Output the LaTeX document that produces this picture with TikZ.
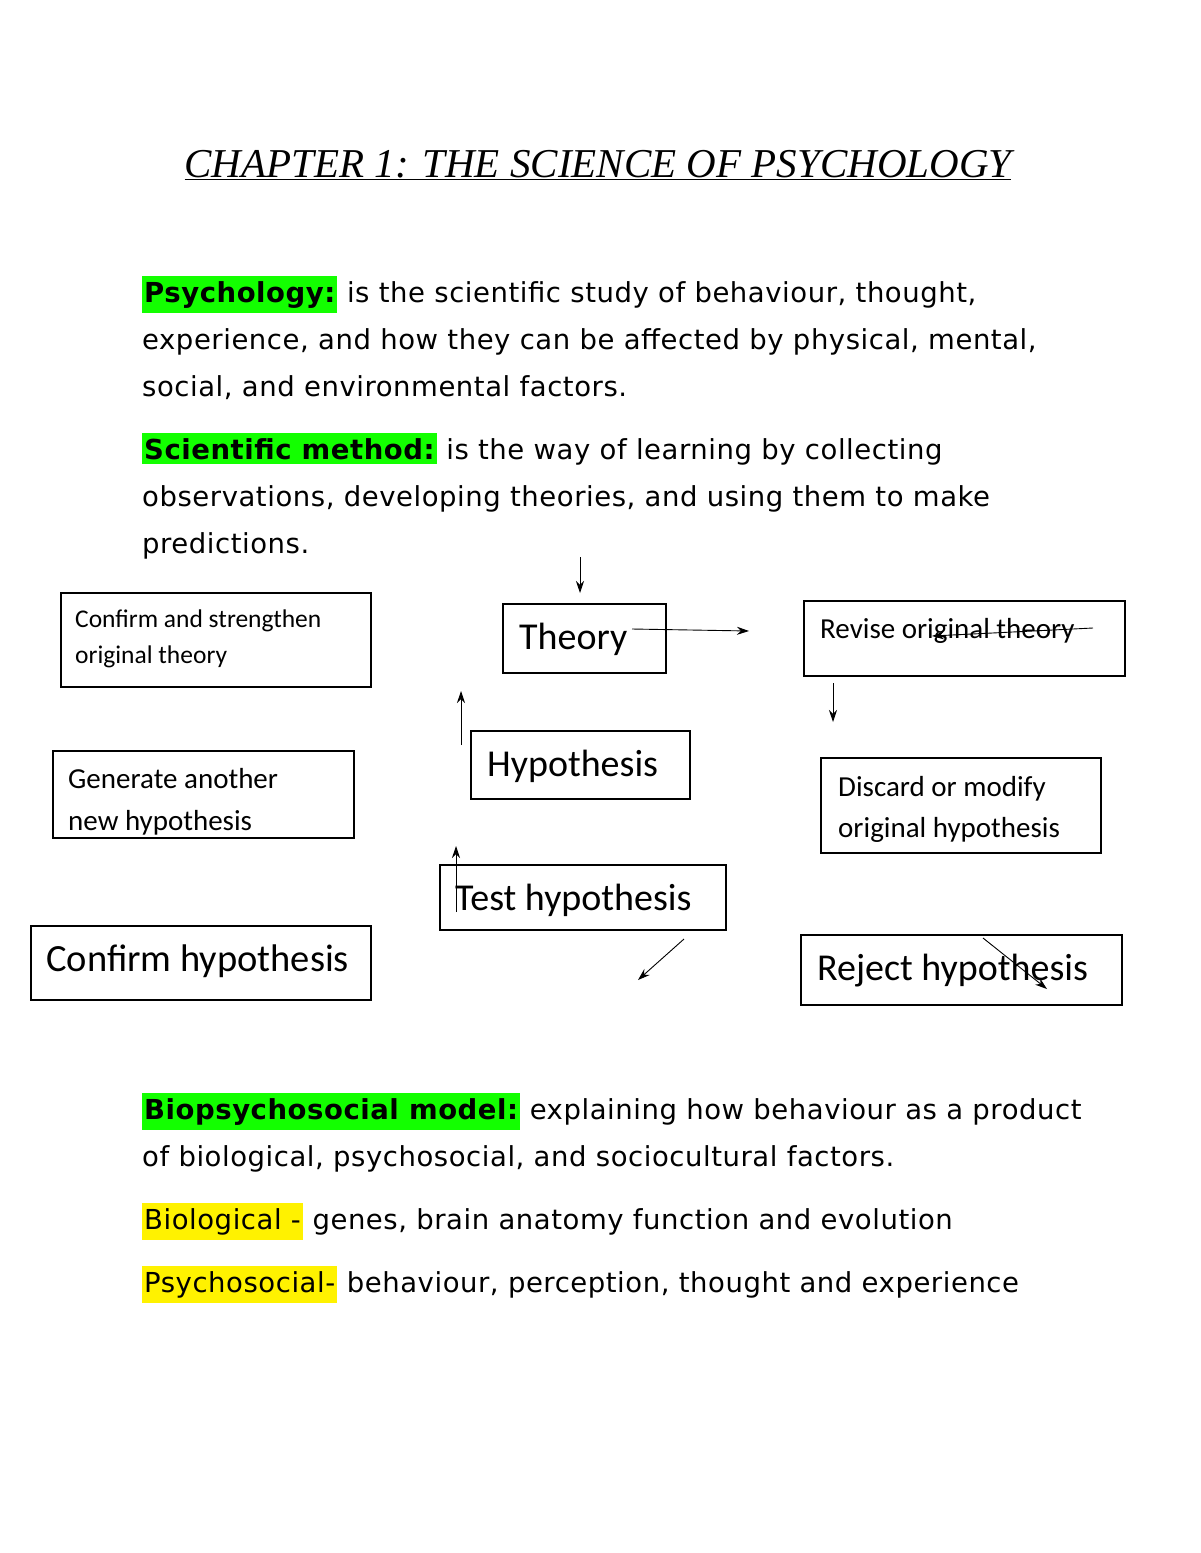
\documentclass[tikz,border=0pt]{standalone}
\usepackage{fontspec}
\setmainfont{DejaVu Sans}[LetterSpace=2]
\newfontfamily\boxf{Carlito}
\newfontfamily\titlef{Liberation Serif}
\usetikzlibrary{arrows.meta}
\begin{document}
\begin{tikzpicture}[x=1pt,y=-1pt,
 bx/.style={draw,line width=1.6pt,inner sep=0pt},
 bt/.style={anchor=base west,inner sep=0pt,font=\boxf},
 tx/.style={anchor=base west,inner sep=0pt,font=\fontsize{27.5}{30}\selectfont},
 hl/.style={anchor=base west,inner xsep=2pt,inner ysep=5pt,font=\fontsize{27.5}{30}\selectfont\bfseries,fill=green!90!lime},
 hy/.style={anchor=base west,inner xsep=2pt,inner ysep=5pt,font=\fontsize{27.5}{30}\selectfont,fill=yellow},
 ar/.style={-{Stealth[length=12pt,width=8pt]},line width=0.9pt}]
\useasboundingbox[fill=white] (0,0) rectangle (1200,1553);
\node[anchor=base,inner sep=0pt,font=\titlef\itshape\fontsize{41}{44}\selectfont] (title) at (598,177) {\underline{CHAPTER 1: THE SCIENCE OF PSYCHOLOGY}};
\node[hl] (h1) at (142,302) {Psychology:};
\node[tx] (l1) at (h1.base east) {\ is the scientific study of behaviour, thought,};
\node[tx] (l2) at (142,349) {experience, and how they can be affected by physical, mental,};
\node[tx] (l3) at (142,396) {social, and environmental factors.};
\node[hl] (h2) at (142,459) {Scientific method:};
\node[tx] (l4) at (h2.base east) {\ is the way of learning by collecting};
\node[tx] (l5) at (142,506) {observations, developing theories, and using them to make};
\node[tx] (l6) at (142,553) {predictions.};
\node[hl] (h3) at (142,1119) {Biopsychosocial model:};
\node[tx] (l7) at (h3.base east) {\ explaining how behaviour as a product};
\node[tx] (l8) at (142,1166) {of biological, psychosocial, and sociocultural factors.};
\node[hy] (h4) at (142,1229) {Biological -};
\node[tx] (l9) at (h4.base east) {\ genes, brain anatomy function and evolution};
\node[hy] (h5) at (142,1292) {Psychosocial-};
\node[tx] (l10) at (h5.base east) {\ behaviour, perception, thought and experience};
% boxes
\draw[bx] (61,593) rectangle (371,687); \node[bt,font=\boxf\fontsize{25.5}{28}\selectfont] (b1a) at (75,627) {Confirm and strengthen}; \node[bt,font=\boxf\fontsize{25.5}{28}\selectfont] (b1b) at (75,663) {original theory};
\draw[bx] (503,604) rectangle (666,673); \node[bt,font=\boxf\fontsize{38}{40}\selectfont] (th) at (519,649) {Theory};
\draw[bx] (804,601) rectangle (1125,676); \node[bt,font=\boxf\fontsize{29}{30}\selectfont] (rv) at (820,638) {Revise original theory};
\draw[bx] (471,731) rectangle (690,799); \node[bt,font=\boxf\fontsize{38}{40}\selectfont] (hy) at (487,776) {Hypothesis};
\draw[bx] (53,751) rectangle (354,838); \node[bt,font=\boxf\fontsize{29}{30}\selectfont] (g1) at (68,788) {Generate another}; \node[bt,font=\boxf\fontsize{29}{30}\selectfont] (g2) at (68,830) {new hypothesis};
\draw[bx] (821,758) rectangle (1101,853); \node[bt,font=\boxf\fontsize{29}{30}\selectfont] (d1) at (838,796) {Discard or modify}; \node[bt,font=\boxf\fontsize{29}{30}\selectfont] (d2) at (838,837) {original hypothesis};
\draw[bx] (440,865) rectangle (726,930); \node[bt,font=\boxf\fontsize{38}{40}\selectfont] (te) at (455,910) {Test hypothesis};
\draw[bx] (31,926) rectangle (371,1000); \node[bt,font=\boxf\fontsize{38.5}{40}\selectfont] (ch) at (46,971) {Confirm hypothesis};
\draw[bx] (801,935) rectangle (1122,1005); \node[bt,font=\boxf\fontsize{38}{40}\selectfont] (rj) at (817,980) {Reject hypothesis};
% arrows
\coordinate (a1) at (580,557); \coordinate (a2) at (580,593);
\draw[ar] (a1) -- (a2);
\coordinate (a3) at (632,629); \coordinate (a4) at (749,631);
\draw[ar] (a3) -- (a4);
\coordinate (a5) at (1093,628); \coordinate (a6) at (932,636);
\draw[ar] (a5) -- (a6);
\coordinate (a7) at (833,683); \coordinate (a8) at (833,722);
\draw[ar] (a7) -- (a8);
\coordinate (a9) at (461,745); \coordinate (a10) at (461,691);
\draw[ar] (a9) -- (a10);
\coordinate (a11) at (456,912); \coordinate (a12) at (456,846);
\draw[ar] (a11) -- (a12);
\coordinate (a13) at (684,939); \coordinate (a14) at (638,980);
\draw[ar] (a13) -- (a14);
\coordinate (a15) at (983,938); \coordinate (a16) at (1047,989);
\draw[ar] (a15) -- (a16);
\end{tikzpicture}
\end{document}
